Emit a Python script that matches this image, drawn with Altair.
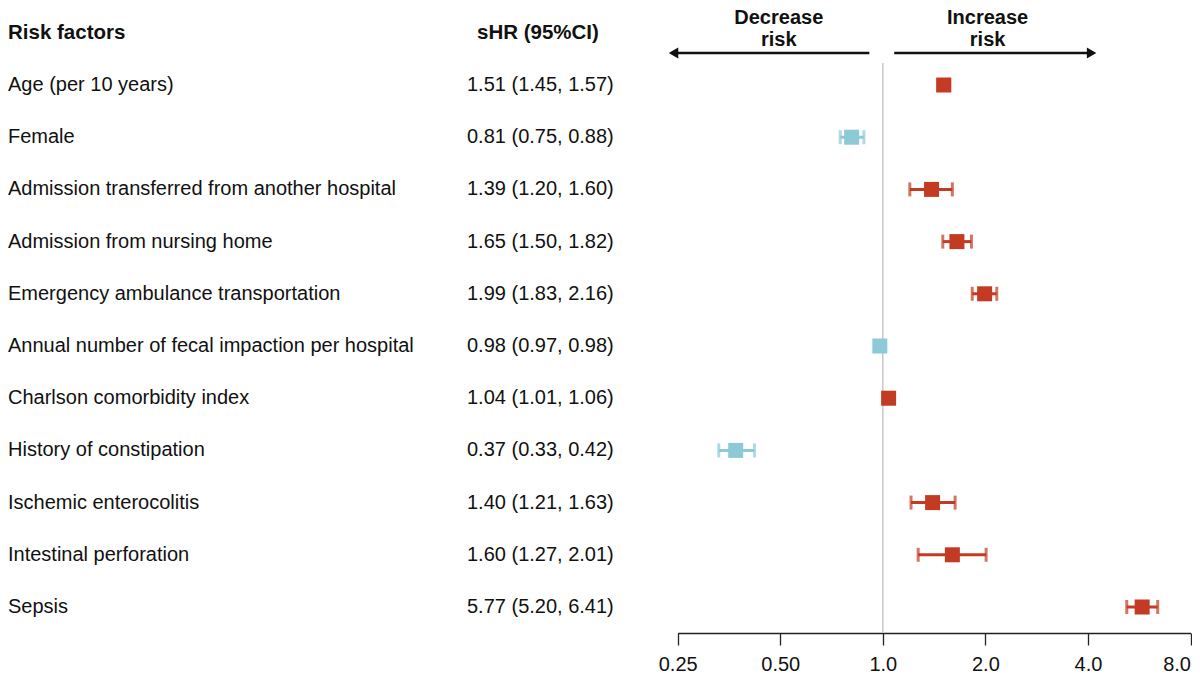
import altair as alt
import pandas as pd

factors = [
    "Age (per 10 years)",
    "Female",
    "Admission transferred from another hospital",
    "Admission from nursing home",
    "Emergency ambulance transportation",
    "Annual number of fecal impaction per hospital",
    "Charlson comorbidity index",
    "History of constipation",
    "Ischemic enterocolitis",
    "Intestinal perforation",
    "Sepsis",
]
shr = [1.51, 0.81, 1.39, 1.65, 1.99, 0.98, 1.04, 0.37, 1.40, 1.60, 5.77]
lower = [1.45, 0.75, 1.20, 1.50, 1.83, 0.97, 1.01, 0.33, 1.21, 1.27, 5.20]
upper = [1.57, 0.88, 1.60, 1.82, 2.16, 0.98, 1.06, 0.42, 1.63, 2.01, 6.41]
ci_text = [
    "1.51 (1.45, 1.57)", "0.81 (0.75, 0.88)", "1.39 (1.20, 1.60)",
    "1.65 (1.50, 1.82)", "1.99 (1.83, 2.16)", "0.98 (0.97, 0.98)",
    "1.04 (1.01, 1.06)", "0.37 (0.33, 0.42)", "1.40 (1.21, 1.63)",
    "1.60 (1.27, 2.01)", "5.77 (5.20, 6.41)",
]
tick_values = [0.25, 0.5, 1.0, 2.0, 4.0, 8.0]
tick_labels = ["0.25", "0.50", "1.0", "2.0", "4.0", "8.0"]
headers_text = ["Risk factors", "sHR (95%CI)"]
annotations = [["Decrease", "risk"], ["Increase", "risk"]]
annotation_x = [0.495, 2.03]
arrow_start = [0.913, 1.08]
arrow_end = [0.243, 4.1]

RED = "#c23b22"
BLUE = "#8dc9d6"
FONT = "Liberation Sans"

df = pd.DataFrame({
    "factor": factors, "shr": shr, "lo": lower, "hi": upper, "ci": ci_text,
    "row": list(range(len(factors))),
    "dir": ["Decrease" if v < 1 else "Increase" for v in shr],
})

W, H = 1183, 625
xscale = alt.Scale(type="log", base=2, domain=[0.25, 8], range=[669.7, 1182.5], nice=False)
yscale = alt.Scale(domain=[0, 10], range=[77, 599], zero=False, nice=False)
color = alt.Color("dir:N", scale=alt.Scale(domain=["Decrease", "Increase"], range=[BLUE, RED]), legend=None)

label_map = "{" + ",".join(f"'{v}':'{l}'" for v, l in zip(tick_values, tick_labels)) + "}"

base = alt.Chart(df)

xenc = alt.X("shr:Q", scale=xscale, title=None,
             axis=alt.Axis(values=tick_values,
                           labelExpr=f"{label_map}[toString(datum.value)] || format(datum.value, '.1f')",
                           labelAlign=alt.ExprRef(expr="datum.value == 8 ? 'right' : 'center'"),
                           grid=False, domainColor="#222", tickColor="#222", tickSize=12,
                           labelFontSize=20, labelFont=FONT, labelColor="#111", labelPadding=9,
                           domainWidth=1.3, tickWidth=1.3, labelOverlap=False))
yenc = alt.Y("row:Q", scale=yscale, axis=None)

axis_layer = base.mark_point(opacity=0).encode(x=xenc, y=yenc)

refline = alt.Chart(pd.DataFrame({"x": [1.0]})).mark_rule(color="#c8c8c8", strokeWidth=1.5).encode(
    x=alt.X("x:Q", scale=xscale), y=alt.value(55), y2=alt.value(H))

bars = base.mark_rule(strokeWidth=3).encode(
    x=alt.X("lo:Q", scale=xscale), x2="hi:Q", y=yenc, color=color)
cap_lo = base.mark_tick(orient="vertical", size=14, thickness=3).encode(
    x=alt.X("lo:Q", scale=xscale), y=yenc, color=color)
cap_hi = base.mark_tick(orient="vertical", size=14, thickness=3).encode(
    x=alt.X("hi:Q", scale=xscale), y=yenc, color=color)
squares = base.mark_square(size=225, opacity=1, filled=True).encode(
    x=alt.X("shr:Q", scale=xscale), y=yenc, color=color)

txt_style = dict(align="left", baseline="middle", font=FONT, fontSize=20, color="#111")
labels = base.mark_text(**txt_style).encode(x=alt.value(0), y=yenc, text="factor:N")
cis = base.mark_text(**txt_style).encode(x=alt.value(459), y=yenc, text="ci:N")

hdr_style = dict(align="left", baseline="middle", font=FONT, fontSize=20.5, fontWeight="bold", color="#111")
head_rows = pd.DataFrame({"t": headers_text, "row": [-1, -1]})
head1 = alt.Chart(head_rows.iloc[[0]]).mark_text(**hdr_style).encode(
    x=alt.value(0), y=alt.Y("row:Q", scale=yscale), text="t:N")
head2 = alt.Chart(head_rows.iloc[[1]]).mark_text(**hdr_style).encode(
    x=alt.value(469), y=alt.Y("row:Q", scale=yscale), text="t:N")

ann = pd.DataFrame({"t": annotations, "x": annotation_x})
anntext = alt.Chart(ann).mark_text(align="center", baseline="top", font=FONT, fontSize=20,
                                   fontWeight="bold", color="#111", lineHeight=22).encode(
    x=alt.X("x:Q", scale=xscale), y=alt.value(0), text="t")

arrows = pd.DataFrame({"x1": arrow_start, "x2": arrow_end, "shape": ["triangle-left", "triangle-right"]})
arrow_lines = alt.Chart(arrows).mark_rule(color="#111", strokeWidth=2.3).encode(
    x=alt.X("x1:Q", scale=xscale), x2="x2:Q", y=alt.value(45))
arrow_heads = alt.Chart(arrows).mark_point(filled=True, color="#111", size=120, opacity=1).encode(
    x=alt.X("x2:Q", scale=xscale), y=alt.value(45),
    shape=alt.Shape("shape:N", scale=None))

chart = alt.layer(
    axis_layer, refline, bars, cap_lo, cap_hi, squares, labels, cis, head1, head2,
    anntext, arrow_lines, arrow_heads
).properties(width=W, height=H, padding=0).configure_view(stroke=None)

chart.save("out.html", embed_options={"renderer": "svg", "actions": False})
